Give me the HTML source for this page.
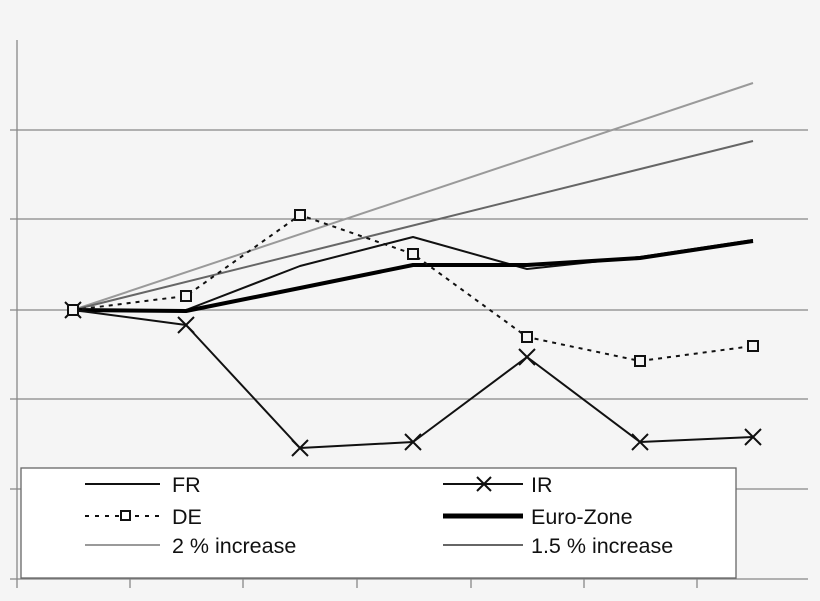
<!DOCTYPE html>
<html><head><style>body{margin:0;background:#f5f5f5}</style></head><body>
<svg width="820" height="601" xmlns="http://www.w3.org/2000/svg" style="display:block">
<rect width="820" height="601" fill="#f5f5f5"/>
<g stroke="#888" stroke-width="1.3">
<line x1="10" y1="130" x2="808" y2="130"/>
<line x1="10" y1="219" x2="808" y2="219"/>
<line x1="10" y1="310" x2="808" y2="310"/>
<line x1="10" y1="399" x2="808" y2="399"/>
<line x1="10" y1="489" x2="808" y2="489"/>
<line x1="10" y1="579" x2="808" y2="579"/>
<line x1="17" y1="40" x2="17" y2="579"/>
<line x1="17" y1="579" x2="17" y2="588"/><line x1="130" y1="579" x2="130" y2="588"/><line x1="243" y1="579" x2="243" y2="588"/><line x1="357" y1="579" x2="357" y2="588"/><line x1="471" y1="579" x2="471" y2="588"/><line x1="584" y1="579" x2="584" y2="588"/><line x1="697" y1="579" x2="697" y2="588"/>
</g>
<g fill="none" stroke-linejoin="round">
<line x1="73" y1="310" x2="753" y2="83" stroke="#9a9a9a" stroke-width="2"/>
<line x1="73" y1="310" x2="753" y2="141" stroke="#666" stroke-width="2"/>
<polyline points="73,310 186,310 300,266 413,237 527,269 640,257 753,240" stroke="#111" stroke-width="2"/>
<polyline points="73,310 186,311 300,288 413,265 527,265 640,258 753,241" stroke="#000" stroke-width="4"/>
<polyline points="73,310 186,296 300,215 413,254 527,337 640,361 753,346" stroke="#111" stroke-width="2" stroke-dasharray="4,5"/>
<polyline points="73,310 186,325 300,448 413,442 527,357 640,442 753,437" stroke="#111" stroke-width="2"/>
</g>
<g stroke="#111" stroke-width="2">
<path d="M65,302l16,16M81,302l-16,16M178,317l16,16M194,317l-16,16M292,440l16,16M308,440l-16,16M405,434l16,16M421,434l-16,16M519,349l16,16M535,349l-16,16M632,434l16,16M648,434l-16,16M745,429l16,16M761,429l-16,16"/>
</g>
<g fill="#f5f5f5" stroke="#111" stroke-width="2">
<rect x="68" y="305" width="10" height="10"/><rect x="181" y="291" width="10" height="10"/><rect x="295" y="210" width="10" height="10"/><rect x="408" y="249" width="10" height="10"/><rect x="522" y="332" width="10" height="10"/><rect x="635" y="356" width="10" height="10"/><rect x="748" y="341" width="10" height="10"/>
</g>
<rect x="21" y="468" width="715" height="110" fill="#fff" stroke="#666" stroke-width="1.3"/>
<g fill="none">
<line x1="85" y1="484" x2="160" y2="484" stroke="#111" stroke-width="2"/>
<line x1="85" y1="516" x2="160" y2="516" stroke="#111" stroke-width="2" stroke-dasharray="4,6"/>
<rect x="121" y="511" width="9" height="9" fill="#fff" stroke="#111" stroke-width="2"/>
<line x1="85" y1="545" x2="160" y2="545" stroke="#9a9a9a" stroke-width="2"/>
<line x1="443" y1="484" x2="523" y2="484" stroke="#111" stroke-width="2"/>
<path d="M477,477l14,14M491,477l-14,14" stroke="#111" stroke-width="2"/>
<line x1="443" y1="516" x2="523" y2="516" stroke="#000" stroke-width="5"/>
<line x1="443" y1="545" x2="523" y2="545" stroke="#666" stroke-width="2"/>
</g>
<g font-family="Liberation Sans, sans-serif" font-size="21.5" fill="#111">
<text x="172" y="492">FR</text>
<text x="172" y="524">DE</text>
<text x="172" y="553">2 % increase</text>
<text x="531" y="492">IR</text>
<text x="531" y="524">Euro-Zone</text>
<text x="531" y="553">1.5 % increase</text>
</g>
</svg>
</body></html>
